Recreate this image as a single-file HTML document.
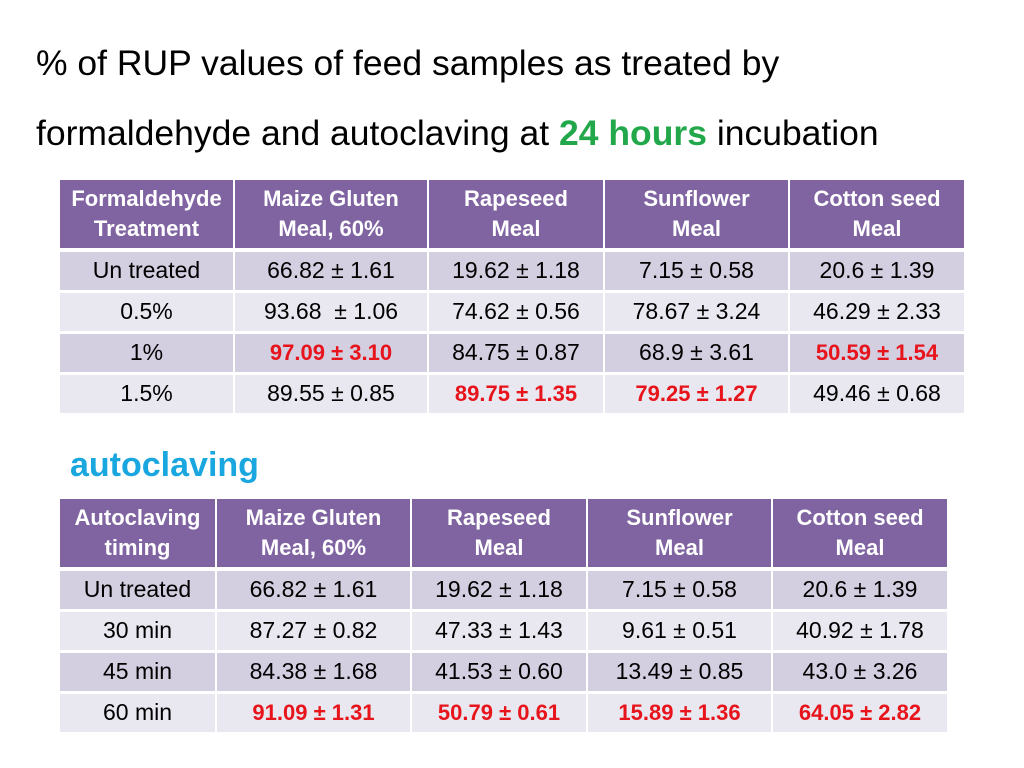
<!DOCTYPE html>
<html><head><meta charset="utf-8">
<style>
body{margin:0;width:1024px;height:768px;background:#fff;position:relative;overflow:hidden;font-family:"Liberation Sans",sans-serif;}
.t{position:absolute;left:36px;font-size:35.5px;color:#000;white-space:nowrap;}
.c{position:absolute;display:flex;align-items:center;justify-content:center;text-align:center;font-size:23px;color:#000;box-sizing:border-box;line-height:1.35;white-space:nowrap;}
.h{background:#8064A2;color:#fff;font-weight:bold;font-size:22px;}
.o{background:#D3CEE0;}
.e{background:#E9E7EF;}
.r{color:#E8141C;font-weight:bold;font-size:22px;}
</style></head><body>
<div class="t" style="top:43px">% of RUP values of feed samples as treated by</div>
<div class="t" style="top:113px">formaldehyde and autoclaving at <b style="color:#22A84A">24 hours</b> incubation</div>
<div class="t" style="left:70px;top:446px;color:#1AA7E0;font-weight:bold;font-size:34px">autoclaving</div>
<div id="root"></div>
<script>
const head1=["Formaldehyde<br>Treatment","Maize Gluten<br>Meal, 60%","Rapeseed<br>Meal","Sunflower<br>Meal","Cotton seed<br>Meal"];
const rows1=[["Un treated","66.82 ± 1.61","19.62 ± 1.18","7.15 ± 0.58","20.6 ± 1.39"],
["0.5%","93.68 &nbsp;± 1.06","74.62 ± 0.56","78.67 ± 3.24","46.29 ± 2.33"],
["1%","*97.09 ± 3.10","84.75 ± 0.87","68.9 ± 3.61","*50.59 ± 1.54"],
["1.5%","89.55 ± 0.85","*89.75 ± 1.35","*79.25 ± 1.27","49.46 ± 0.68"]];
const head2=["Autoclaving<br>timing","Maize Gluten<br>Meal, 60%","Rapeseed<br>Meal","Sunflower<br>Meal","Cotton seed<br>Meal"];
const rows2=[["Un treated","66.82 ± 1.61","19.62 ± 1.18","7.15 ± 0.58","20.6 ± 1.39"],
["30 min","87.27 ± 0.82","47.33 ± 1.43","9.61 ± 0.51","40.92 ± 1.78"],
["45 min","84.38 ± 1.68","41.53 ± 0.60","13.49 ± 0.85","43.0 ± 3.26"],
["60 min","*91.09 ± 1.31","*50.79 ± 0.61","*15.89 ± 1.36","*64.05 ± 2.82"]];
function table(name,head,rows,cols,top){
  const root=document.getElementById('root');
  const hh=68,rh=38,gap=3;
  const mk=(x0,x1,y,h,cls,html,n)=>{
    const d=document.createElement('div');
    d.className='c '+cls;
    d.style.cssText=`left:${x0+(x0===cols[0]?0:2)}px;top:${y}px;width:${x1-x0-(x0===cols[0]?0:2)}px;height:${h}px`;
    d.innerHTML=html;
    
    
    root.appendChild(d);
  };
  head.forEach((t,i)=>mk(cols[i],cols[i+1],top,hh,'h',t,name+'-header-'+i));
  rows.forEach((r,j)=>{
    const y=top+hh+gap+1+j*(rh+gap);
    r.forEach((t,i)=>{
      let cls=j%2?'e':'o';
      if(t[0]==='*'){cls+=' r';t=t.slice(1);}
      mk(cols[i],cols[i+1],y,rh,cls,t,name+'-cell-'+j+'-'+i);
    });
  });
}
table('formaldehyde-table',head1,rows1,[60,233,427,603,788,964],180);
table('autoclaving-table',head2,rows2,[60,215,410,586,771,947],499);
</script>
</body></html>
